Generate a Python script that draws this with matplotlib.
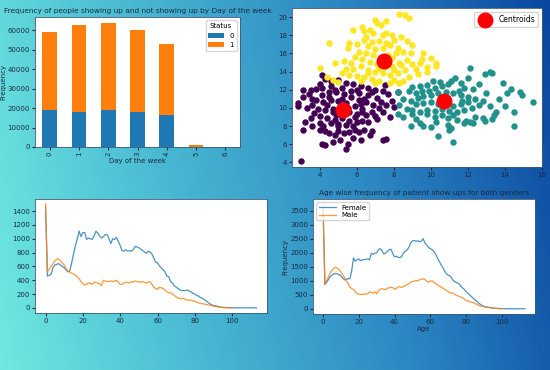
import numpy as np
import matplotlib
matplotlib.use("Agg")
import matplotlib.pyplot as plt
from matplotlib.colors import LinearSegmentedColormap

# bar chart: counts per weekday by status
days = [0, 1, 2, 3, 4, 5, 6]
status0 = [19200, 18200, 18800, 17900, 16400, 100, 0]
status1 = [40100, 44600, 44800, 42400, 36400, 1100, 0]

# scatter clusters (x, y)
purple_x = [3.0, 4.1, 4.3, 5.4, 4.7, 5.1, 5.8, 7.4, 7.6, 6.2, 4.0, 3.1, 3.2, 2.8, 2.8, 3.1, 3.1, 3.5, 3.6, 3.3,
            3.7, 4.0, 4.3, 4.5, 4.8, 5.0, 5.3, 5.6, 5.9, 6.1, 6.4, 6.8, 7.1, 6.6, 6.3, 7.4, 7.6, 8.0, 7.9, 7.7,
            7.4, 7.0, 6.6, 6.2, 5.8, 5.4, 5.0, 4.6, 4.3, 4.1, 4.0, 3.8, 4.6, 5.2, 5.7, 6.1, 6.6, 7.1, 7.3, 6.9,
            6.5, 6.1, 5.7, 5.3, 4.9, 4.5, 4.1, 3.8, 4.2, 4.6, 5.0, 5.4, 5.9, 6.3, 6.8, 7.0, 6.5, 6.0, 5.6, 5.1,
            4.7, 4.3, 3.9, 3.6, 4.0, 4.4, 4.8, 5.2, 5.6, 6.0, 5.8, 5.4, 5.0, 4.6, 4.2, 3.5, 4.9, 5.5, 6.2, 4.4,
            5.2, 4.8, 6.0, 6.8, 7.2, 7.8, 8.2, 7.5, 3.4, 6.7, 5.5, 3.6, 4.5, 5.3, 6.4, 5.9, 4.1, 5.0, 6.3, 4.7]
purple_y = [4.2, 6.0, 5.9, 5.5, 6.2, 6.5, 6.7, 6.5, 6.6, 6.5, 7.6, 7.6, 8.4, 10.5, 10.2, 11.2, 12.0, 12.0, 11.0, 10.0,
            9.4, 8.3, 7.5, 7.2, 7.0, 7.5, 7.2, 7.3, 7.6, 7.3, 7.6, 7.5, 8.8, 8.4, 8.6, 9.5, 10.3, 10.1, 10.8, 11.5,
            11.9, 12.0, 12.2, 12.4, 12.6, 12.8, 13.1, 13.0, 13.2, 13.6, 12.6, 12.1, 12.4, 12.2, 11.9, 11.6, 11.4, 11.1, 10.6, 10.3,
            10.6, 10.9, 11.2, 11.5, 11.7, 11.7, 11.4, 10.9, 10.6, 10.9, 10.8, 10.5, 10.2, 9.9, 9.6, 9.1, 9.2, 9.3, 9.5, 9.6,
            9.9, 9.8, 9.9, 10.3, 9.1, 8.9, 8.7, 8.9, 8.6, 8.4, 8.0, 8.1, 8.2, 8.3, 8.0, 8.9, 9.2, 10.0, 10.4, 10.3,
            11.0, 12.0, 12.0, 11.8, 10.0, 9.0, 11.8, 12.5, 11.5, 7.0, 6.0, 8.0, 11.2, 10.2, 11.0, 9.0, 12.2, 8.0, 9.6, 9.5]

yellow_x = [4.5, 4.0, 4.4, 4.7, 4.8, 5.4, 5.5, 5.6, 5.8, 6.3, 6.4, 6.5, 7.0, 7.1, 7.3, 8.3, 8.6, 8.8, 7.6, 7.9,
            8.7, 9.0, 9.5, 10.0, 10.3, 10.3, 9.8, 9.2, 9.3, 8.8, 8.5, 8.3, 7.8, 7.2, 6.8, 6.4, 6.0, 5.6, 5.2, 5.0,
            5.8, 6.2, 6.6, 7.0, 7.4, 7.8, 8.2, 8.6, 9.0, 8.7, 8.3, 7.9, 7.5, 7.1, 6.7, 6.3, 5.9, 6.1, 6.5, 6.9,
            7.3, 7.7, 8.1, 8.5, 8.2, 7.8, 7.4, 7.0, 6.6, 6.8, 7.2, 7.6, 8.0, 7.4, 6.9, 8.4, 8.9, 9.4, 6.0, 5.3,
            7.0, 8.0, 6.2, 9.6, 9.8, 5.7, 7.6, 6.7, 8.0, 6.4, 7.2, 7.7, 8.4, 6.6, 7.9]
yellow_y = [17.2, 14.4, 13.4, 13.1, 14.9, 14.3, 16.6, 17.1, 18.6, 18.9, 18.5, 17.8, 19.7, 19.4, 19.1, 20.3, 20.2, 19.9, 18.3, 18.0,
            17.4, 16.9, 15.4, 15.5, 14.6, 15.0, 14.5, 14.3, 13.7, 13.4, 13.0, 12.7, 12.8, 13.0, 13.2, 13.4, 13.5, 13.6, 13.8, 12.9,
            14.3, 14.6, 14.2, 14.0, 13.8, 13.6, 13.8, 14.2, 14.8, 15.3, 15.0, 14.6, 14.5, 14.8, 15.1, 15.4, 15.6, 16.2, 16.0, 15.8,
            15.6, 15.8, 16.0, 16.2, 16.6, 16.9, 16.6, 16.5, 16.8, 17.3, 17.4, 17.2, 17.5, 18.0, 18.2, 17.8, 16.0, 15.0, 17.0, 15.2,
            12.7, 13.1, 13.0, 16.0, 14.0, 15.0, 19.6, 18.6, 14.2, 17.5, 14.3, 14.9, 14.7, 13.8, 15.5]

teal_x = [8.2, 8.5, 8.3, 8.7, 8.2, 8.5, 8.9, 9.0, 9.4, 9.6, 10.0, 10.4, 11.0, 11.2, 11.1, 10.9, 11.8, 12.1, 12.3, 12.4,
          12.8, 12.9, 13.3, 13.4, 13.5, 14.0, 14.5, 14.5, 15.5, 14.8, 14.9, 14.1, 13.9, 13.3, 13.2, 12.9, 12.1, 12.6, 12.3, 11.8,
          11.6, 11.3, 11.1, 10.9, 10.6, 10.2, 9.8, 9.4, 9.0, 8.8, 9.2, 9.6, 10.0, 10.4, 10.8, 11.2, 11.6, 12.0, 12.4, 12.0,
          11.6, 11.2, 10.4, 10.0, 9.6, 9.2, 8.9, 9.0, 9.4, 9.8, 10.2, 10.6, 11.0, 11.4, 11.8, 12.2, 12.6, 13.0, 12.8, 13.2,
          10.6, 10.2, 9.8, 10.9, 11.4, 11.2, 9.5, 10.5, 12.0, 13.7, 14.3, 11.9, 10.3, 9.2, 11.5, 10.1, 9.3, 10.7, 11.7, 9.9]
teal_y = [11.8, 11.0, 10.3, 9.9, 9.3, 9.0, 8.0, 9.3, 8.3, 8.0, 7.9, 6.9, 7.6, 6.2, 7.8, 8.1, 8.3, 8.4, 8.3, 9.0,
          8.9, 8.6, 8.8, 9.2, 9.6, 10.2, 9.6, 8.0, 10.7, 11.8, 11.4, 11.6, 12.8, 13.9, 14.0, 13.7, 14.4, 12.6, 12.1, 12.2,
          12.8, 13.3, 13.0, 12.6, 12.4, 12.2, 12.5, 12.4, 12.3, 11.9, 11.6, 11.3, 11.4, 11.6, 11.8, 11.6, 11.4, 11.2, 11.0, 10.6,
          10.4, 10.2, 10.4, 10.6, 10.5, 10.4, 10.8, 9.8, 9.6, 9.8, 9.7, 9.9, 9.7, 9.5, 9.8, 10.0, 10.3, 11.6, 10.8, 10.2,
          9.2, 9.0, 9.3, 8.9, 8.7, 9.2, 11.9, 12.9, 13.3, 11.0, 12.1, 8.6, 8.5, 8.8, 11.9, 13.0, 11.1, 11.1, 10.8, 11.9]

centroid_x = [5.25, 7.46, 10.73]
centroid_y = [9.8, 15.2, 10.8]

# age curves, one value per year of age
female_a = [1470, 460, 470, 490, 580, 620, 630, 640, 620, 600, 580, 550, 520, 540, 650, 780, 900, 1000, 1110, 1030,
            1090, 1090, 990, 1010, 1000, 990, 1040, 1110, 1080, 1040, 1010, 1030, 1060, 1060, 1000, 930, 1000, 990, 1020, 960,
            900, 830, 820, 840, 820, 830, 820, 840, 890, 880, 870, 850, 830, 810, 790, 820, 810, 780, 720, 660,
            650, 610, 580, 550, 520, 460, 450, 380, 360, 320, 300, 280, 260, 250, 250, 250, 260, 240, 230, 210,
            200, 180, 170, 150, 140, 120, 100, 80, 60, 45, 35, 30, 25, 15, 10, 8, 5, 4, 3, 2,
            2, 2, 1, 1, 1, 2, 1, 1, 1, 1, 1, 1, 1, 1]
male_a = [1500, 520, 560, 600, 640, 680, 700, 710, 680, 650, 620, 570, 530, 520, 500, 490, 470, 450, 420, 380,
          350, 330, 340, 360, 360, 340, 370, 370, 360, 350, 320, 400, 390, 380, 380, 390, 380, 390, 400, 370,
          340, 340, 360, 370, 370, 360, 380, 370, 390, 380, 380, 370, 380, 370, 360, 370, 380, 340, 300, 280,
          270, 300, 290, 280, 260, 230, 220, 220, 200, 180, 160, 140, 140, 130, 140, 120, 110, 110, 110, 100,
          95, 85, 70, 65, 60, 55, 50, 45, 40, 30, 25, 20, 15, 10, 8, 6, 4, 3, 2, 1, 1]

female_b = [3600, 870, 950, 1050, 1150, 1200, 1250, 1260, 1250, 1220, 1180, 1100, 1030, 1050, 1080, 1070, 1350, 1820, 1700, 1760,
            1780, 1720, 1750, 1760, 1770, 1780, 1760, 1980, 1950, 1990, 2000, 2120, 2150, 2080, 1960, 2000, 2050, 2120, 2130, 1980,
            1860, 1880, 1840, 1830, 1870, 2000, 2060, 2100, 2200, 2350, 2430, 2440, 2420, 2430, 2400, 2420, 2510, 2350, 2280, 2200,
            2150, 2120, 2050, 1950, 1820, 1700, 1580, 1480, 1350, 1250, 1200, 1180, 1100, 1000, 960, 930, 900, 820, 750, 700,
            620, 560, 500, 440, 380, 320, 270, 210, 160, 120, 90, 70, 60, 50, 40, 30, 20, 15, 10, 8,
            5, 4, 3, 3, 2, 2, 2, 1, 1, 1, 1, 1, 1, 1]
male_b = [3740, 900, 1000, 1150, 1280, 1380, 1450, 1490, 1450, 1400, 1320, 1220, 1120, 1000, 900, 780, 720, 700, 620, 550,
          520, 510, 520, 530, 520, 540, 600, 580, 560, 610, 540, 650, 700, 720, 700, 680, 740, 750, 770, 760,
          700, 730, 780, 790, 760, 800, 830, 870, 900, 950, 980, 990, 1020, 1000, 1040, 1060, 1070, 1050, 990, 950,
          990, 1000, 950, 900, 860, 820, 780, 740, 700, 660, 610, 580, 560, 560, 500, 470, 450, 420, 400, 350,
          300, 280, 260, 240, 220, 200, 160, 120, 100, 90, 80, 60, 50, 40, 30, 25, 20, 15, 10, 8, 5]

fig = plt.figure(figsize=(5.5, 3.7), dpi=100)

# gradient background
bg = fig.add_axes([0, 0, 1, 1], zorder=-10)
gx, gy = np.meshgrid(np.linspace(0, 1, 300), np.linspace(0, 1, 200))
grad = np.clip(0.88 * gx + 0.12 * gy, 0, 1)
cmap_bg = LinearSegmentedColormap.from_list("bg", ["#6fe9e1", "#48b8d2", "#2c86c2", "#0a47a0"])
bg.imshow(grad, cmap=cmap_bg, aspect="auto", extent=[0, 1, 0, 1], origin="lower")
bg.axis("off")

fs = 5
tc = "#1a2a40"

# top left: stacked bars
ax1 = fig.add_axes([35 / 550, 1 - 147 / 370, 205 / 550, 130 / 370])
ax1.bar(days, status0, width=0.5, color="#1f77b4", label="0")
ax1.bar(days, status1, width=0.5, bottom=status0, color="#ff7f0e", label="1")
ax1.set_xlim(-0.5, 6.5)
ax1.set_xticks(days)
ax1.set_xticklabels([str(d) for d in days], rotation=90)
ax1.set_xlabel("Day of the week", fontsize=fs, color=tc, labelpad=1)
ax1.set_ylabel("Frequency", fontsize=fs, color=tc, labelpad=1)
ax1.set_title("Frequency of people showing up and not showing up by Day of the week",
              fontsize=5.3, color=tc, pad=3)
ax1.legend(title="Status", fontsize=fs, title_fontsize=fs, loc="upper right",
           handlelength=2.2, borderpad=0.4)

# top right: clusters
ax2 = fig.add_axes([292 / 550, 1 - 167 / 370, 250 / 550, 159 / 370])
cols = plt.cm.viridis([0.0, 0.5, 1.0])
ax2.scatter(purple_x, purple_y, s=13, color=cols[0])
ax2.scatter(teal_x, teal_y, s=13, color=cols[1])
ax2.scatter(yellow_x, yellow_y, s=13, color=cols[2])
ax2.scatter(centroid_x, centroid_y, s=110, color="red", label="Centroids")
ax2.set_xlim(2.5, 16)
ax2.set_ylim(3.5, 21)
ax2.set_xticks(range(4, 17, 2))
ax2.set_yticks(range(4, 21, 2))
ax2.legend(fontsize=fs + 0.5, loc="upper right")

# bottom left: age curves
ax3 = fig.add_axes([35 / 550, 1 - 313 / 370, 232 / 550, 114 / 370])
ax3.plot(range(len(female_a)), female_a, lw=0.9, color="#1f77b4", alpha=0.8)
ax3.plot(range(len(male_a)), male_a, lw=0.9, color="#ff7f0e", alpha=0.8)
ax3.set_yticks(range(0, 1401, 200))
ax3.set_xticks(range(0, 101, 20))

# bottom right: age curves
ax4 = fig.add_axes([313 / 550, 1 - 314 / 370, 222 / 550, 115 / 370])
ax4.plot(range(len(female_b)), female_b, lw=0.9, color="#1f77b4", alpha=0.8, label="Female")
ax4.plot(range(len(male_b)), male_b, lw=0.9, color="#ff7f0e", alpha=0.8, label="Male")
ax4.set_yticks(range(0, 3501, 500))
ax4.set_xticks(range(0, 101, 20))
ax4.set_xlabel("Age", fontsize=fs, color=tc, labelpad=1)
ax4.set_ylabel("Frequency", fontsize=fs, color=tc, labelpad=1)
ax4.set_title("Age wise frequency of patient show ups for both genders", fontsize=5.3, color=tc, pad=3)
ax4.legend(fontsize=fs, loc="upper left", borderpad=0.3, labelspacing=0.2, handlelength=2.5)

for ax in (ax1, ax2, ax3, ax4):
    ax.tick_params(labelsize=fs, colors=tc, length=2, pad=1.5)
    for sp in ax.spines.values():
        sp.set_color("#3a5a7a")
        sp.set_linewidth(0.6)

fig.savefig("out.png", dpi=100)
